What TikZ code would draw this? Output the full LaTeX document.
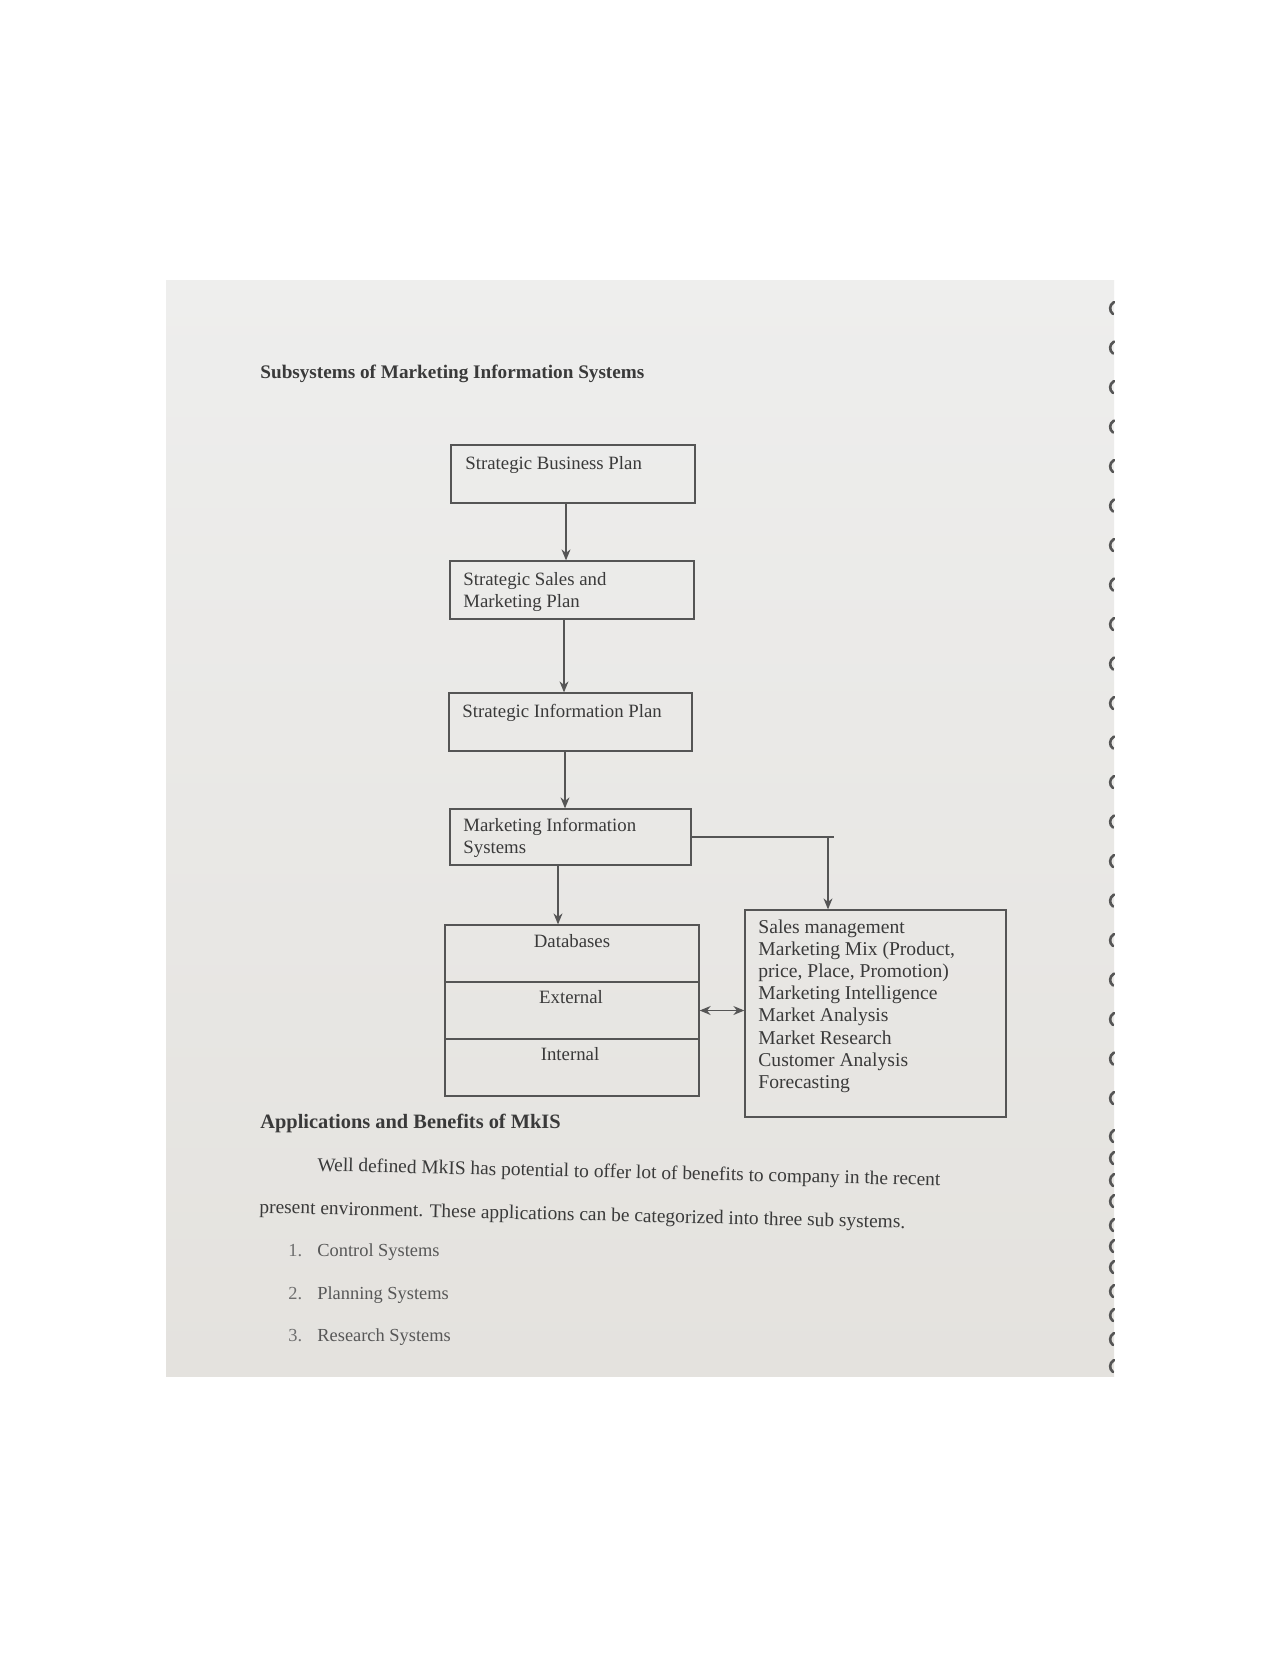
\documentclass[tikz,border=0pt]{standalone}
\usepackage{fontspec}
\setmainfont{Liberation Serif}
\usetikzlibrary{arrows.meta,calc}
\definecolor{ink}{HTML}{3A3A3A}
\definecolor{lineink}{HTML}{555555}
\definecolor{papertop}{HTML}{EEEEED}
\definecolor{paperbot}{HTML}{E4E2DE}
\definecolor{numink}{HTML}{6E6E6E}
\definecolor{spiral}{HTML}{555555}
\begin{document}
\begin{tikzpicture}[x=0.5pt,y=-0.5pt,
  box/.style={draw=lineink, line width=0.65pt, inner sep=0pt},
  lbl/.style={text=ink, inner sep=0pt, anchor=base west, font=\fontsize{9.4pt}{11pt}\selectfont},
  clbl/.style={text=ink, inner sep=0pt, anchor=base, font=\fontsize{9.4pt}{11pt}\selectfont},
  biglbl/.style={text=ink, inner sep=0pt, anchor=base west, font=\fontsize{9.8pt}{11pt}\selectfont},
  para/.style={text=ink, inner sep=0pt, anchor=base west, font=\fontsize{9.7pt}{11pt}\selectfont},
  numlbl/.style={text=numink, inner sep=0pt, anchor=base west, font=\fontsize{9.2pt}{11pt}\selectfont},
  listlbl/.style={text=ink!85, inner sep=0pt, anchor=base west, font=\fontsize{9.2pt}{11pt}\selectfont},
  arr/.style={draw=lineink, line width=0.65pt, -{Stealth[length=5.5pt,width=4.5pt]}},
  darr/.style={draw=lineink, line width=0.65pt, {Stealth[length=5.5pt,width=4.5pt]}-{Stealth[length=5.5pt,width=4.5pt]}},
  plain/.style={draw=lineink, line width=0.65pt},
  spiralst/.style={draw=spiral, line width=1.3pt, line cap=round}
]
\useasboundingbox (0,0) rectangle (1280,1656);
\fill[white] (0,0) rectangle (1280,1656);
\shade[top color=papertop, bottom color=paperbot] (166,280) rectangle (1114,1376);

% spiral binding marks
\foreach \yy in {308,347.5,387,426.5,466,505.5,545,584.5,624,663.5,703,742.5,782,821.5,861,900.5,940,979.5,1019,1058.5,1098,1136,1158,1180,1201,1225,1246,1267,1291,1315,1339,1366}{
  \draw[spiralst] (1114,{\yy-6}) .. controls (1109,{\yy-3}) and (1109,{\yy+3}) .. (1113,{\yy+6});
}

% title
\node[text=ink, inner sep=0pt, anchor=base west, font=\bfseries\fontsize{9.6pt}{11pt}\selectfont] (title) at (260,378) {Subsystems of Marketing Information Systems};

% boxes
\node[box, minimum width=122pt, minimum height=29pt] (b1) at (573,474) {};
\node[box, minimum width=122pt, minimum height=29pt] (b2) at (572,590) {};
\node[box, minimum width=121.5pt, minimum height=29pt] (b3) at (570.5,722) {};
\node[box, minimum width=120.5pt, minimum height=28pt] (b4) at (570.5,837) {};
\node[box, minimum width=127pt, minimum height=85.5pt] (db) at (572,1010.5) {};
\node[box, minimum width=130.5pt, minimum height=103.5pt] (b5) at (875.5,1013.5) {};

% box texts
\node[lbl] (t1) at (465,469) {Strategic Business Plan};
\node[lbl] (t2a) at (463,585) {Strategic Sales and};
\node[lbl] (t2b) at (463,607) {Marketing Plan};
\node[lbl] (t3) at (462,717) {Strategic Information Plan};
\node[lbl] (t4a) at (463,831) {Marketing Information};
\node[lbl] (t4b) at (463,853) {Systems};

% database partitions
\draw[plain] (db.west |- 0,982) -- (db.east |- 0,982);
\draw[plain] (db.west |- 0,1039) -- (db.east |- 0,1039);
\node[clbl] (d1) at (572,947) {Databases};
\node[clbl] (d2) at (571,1003) {External};
\node[clbl] (d3) at (570,1060) {Internal};

% right box list
\foreach \t [count=\i from 0] in {Sales management, {Marketing Mix (Product,}, {price, Place, Promotion)}, Marketing Intelligence, Market Analysis, Market Research, Customer Analysis, Forecasting}{
  \node[biglbl] at (758,{933+22.2*\i}) {\t};
}

% connectors
\draw[arr] (566,0 |- b1.south) -- (566,0 |- b2.north);
\draw[arr] (564,0 |- b2.south) -- (564,0 |- b3.north);
\draw[arr] (565,0 |- b3.south) -- (565,0 |- b4.north);
\draw[arr] (558,0 |- b4.south) -- (558,0 |- db.north);
\coordinate (c1) at (834,837);
\coordinate (c2) at (828,837);
\draw[plain] (b4.east) -- (c1);
\draw[arr] (c2) -- (c2 |- b5.north);
\draw[darr] (db.east) -- (db.east -| b5.west);

% lower text
\node[text=ink, inner sep=0pt, anchor=base west, font=\bfseries\fontsize{10.2pt}{11pt}\selectfont] (h2) at (260,1128) {Applications and Benefits of MkIS};
\node[para, rotate=-1.35] (p1) at (317,1171) {Well defined MkIS has potential to offer lot of benefits to company in the recent};
\node[para, rotate=-1.35] (p2) at (259,1213) {present environment. These applications can be categorized into three sub systems.};
\node[numlbl] (n1) at (288,1256) {1.};
\node[listlbl] (l1) at (317,1256) {Control Systems};
\node[numlbl] (n2) at (288,1299) {2.};
\node[listlbl] (l2) at (317,1299) {Planning Systems};
\node[numlbl] (n3) at (288,1341) {3.};
\node[listlbl] (l3) at (317,1341) {Research Systems};
\end{tikzpicture}
\end{document}
